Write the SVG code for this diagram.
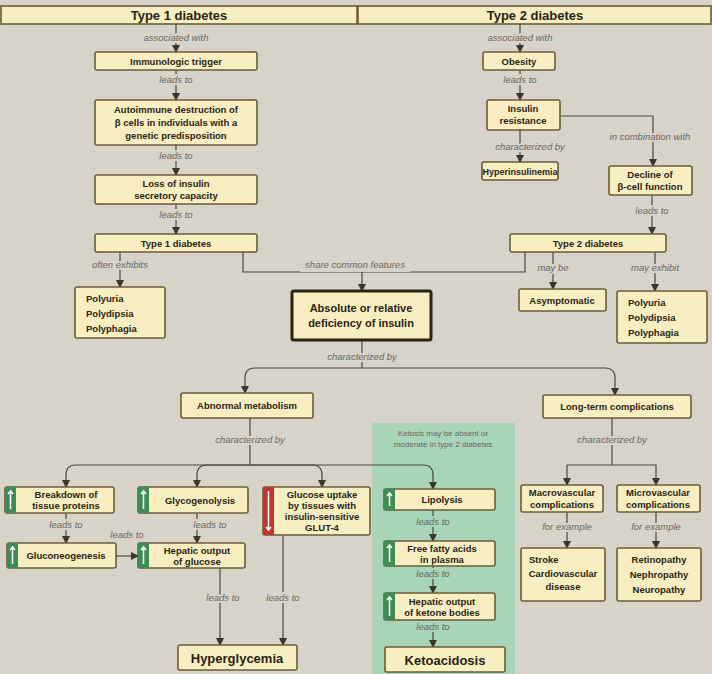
<svg xmlns="http://www.w3.org/2000/svg" width="712" height="674" viewBox="0 0 712 674">
<style>
.b{fill:#f8eec2;stroke:#6a5c38;stroke-width:1.6}
.t{font-family:"Liberation Sans",Arial,sans-serif;font-weight:bold;font-size:9.5px;fill:#2a2414;text-anchor:middle}
.s{text-anchor:start}
.l{font-family:"Liberation Sans",Arial,sans-serif;font-style:italic;font-size:9.5px;fill:#6a665c;text-anchor:middle}
.c{fill:none;stroke:#4a463c;stroke-width:1.2}
.m{marker-end:url(#a)}
.g{fill:#3e8c55}.r{fill:#c43530}
.ar{stroke:#fff;stroke-width:1.5;fill:none}
</style>
<defs><marker id="a" markerWidth="8" markerHeight="8" refX="7" refY="4" orient="auto" markerUnits="userSpaceOnUse"><path d="M0,0L8,4L0,8z" fill="#3a362c"/></marker></defs>
<rect width="712" height="674" fill="#d8d3c8"/>
<rect x="372" y="423" width="143" height="251" fill="#a8d4b8"/>
<g id="headers">
<rect x="1" y="6" width="356" height="18" class="b"/><text x="179" y="20" class="t" font-size="13" style="font-size:13px">Type 1 diabetes</text>
<rect x="358" y="6" width="353" height="18" class="b"/><text x="535" y="20" class="t" style="font-size:13px">Type 2 diabetes</text>
</g>
<g id="connectors">
<path class="c m" d="M176 24V52"/><path class="c m" d="M176 70V100"/><path class="c m" d="M176 145V175"/><path class="c m" d="M176 204V234"/><path class="c m" d="M120 252V287"/>
<path class="c m" d="M520 24V52"/><path class="c m" d="M520 70V100"/><path class="c m" d="M520 130V162"/><path class="c m" d="M560 116H653V166"/><path class="c m" d="M652 195V234"/><path class="c m" d="M553 252V289"/><path class="c m" d="M655 252V291"/>
<path class="c" d="M243 252V272H525V252"/><path class="c m" d="M362 272V291"/><path class="c" d="M362 340V368"/>
<path class="c m" d="M362 368H255Q245 368 245 378V393"/>
<path class="c m" d="M362 368H605Q615 368 615 378V395"/>
<path class="c" d="M250 418V465"/>
<path class="c m" d="M250 465H76Q66 465 66 475V487"/>
<path class="c m" d="M250 465H207Q197 465 197 475V487"/>
<path class="c m" d="M250 465H312Q322 465 322 475V487"/>
<path class="c m" d="M250 465H423Q433 465 433 475V489"/>
<path class="c" d="M612 418V465H567"/><path class="c m" d="M567 465V485"/><path class="c m" d="M612 465H656V485"/>
<path class="c m" d="M567 512V548"/><path class="c m" d="M656 512V548"/><path class="c m" d="M66 513V543"/><path class="c m" d="M197 513V543"/><path class="c m" d="M116 556H138"/><path class="c m" d="M220 568V645"/><path class="c m" d="M283 535V645"/><path class="c m" d="M433 510V541"/><path class="c m" d="M433 566V593"/><path class="c m" d="M433 620V647"/>
</g>
<g id="labels">
<text x="176" y="41" class="l" stroke="#d8d3c8" stroke-width="4">associated with</text><text x="176" y="41" class="l">associated with</text>
<text x="176" y="83" class="l" stroke="#d8d3c8" stroke-width="4">leads to</text><text x="176" y="83" class="l">leads to</text>
<text x="176" y="159" class="l" stroke="#d8d3c8" stroke-width="4">leads to</text><text x="176" y="159" class="l">leads to</text>
<text x="176" y="218" class="l" stroke="#d8d3c8" stroke-width="4">leads to</text><text x="176" y="218" class="l">leads to</text>
<text x="120" y="268" class="l" stroke="#d8d3c8" stroke-width="4">often exhibits</text><text x="120" y="268" class="l">often exhibits</text>
<rect x="300" y="260" width="110" height="12" fill="#d8d3c8"/>
<text x="355" y="268" class="l">share common features</text>
<text x="520" y="41" class="l" stroke="#d8d3c8" stroke-width="4">associated with</text><text x="520" y="41" class="l">associated with</text>
<text x="520" y="83" class="l" stroke="#d8d3c8" stroke-width="4">leads to</text><text x="520" y="83" class="l">leads to</text>
<text x="530" y="150" class="l" stroke="#d8d3c8" stroke-width="4">characterized by</text><text x="530" y="150" class="l">characterized by</text>
<text x="650" y="140" class="l" stroke="#d8d3c8" stroke-width="4">in combination with</text><text x="650" y="140" class="l">in combination with</text>
<text x="652" y="214" class="l" stroke="#d8d3c8" stroke-width="4">leads to</text><text x="652" y="214" class="l">leads to</text>
<text x="553" y="271" class="l" stroke="#d8d3c8" stroke-width="4">may be</text><text x="553" y="271" class="l">may be</text>
<text x="655" y="271" class="l" stroke="#d8d3c8" stroke-width="4">may exhibit</text><text x="655" y="271" class="l">may exhibit</text>
<text x="362" y="360" class="l" stroke="#d8d3c8" stroke-width="4">characterized by</text><text x="362" y="360" class="l">characterized by</text>
<text x="250" y="443" class="l" stroke="#d8d3c8" stroke-width="4">characterized by</text><text x="250" y="443" class="l">characterized by</text>
<text x="612" y="443" class="l" stroke="#d8d3c8" stroke-width="4">characterized by</text><text x="612" y="443" class="l">characterized by</text>
<text x="443" y="436" class="l" style="font-size:8px;font-style:normal">Ketosis may be absent or</text>
<text x="443" y="447" class="l" style="font-size:8px;font-style:normal">moderate in type 2 diabetes</text>
<text x="66" y="528" class="l" stroke="#d8d3c8" stroke-width="4">leads to</text><text x="66" y="528" class="l">leads to</text>
<text x="127" y="538" class="l">leads to</text>
<text x="210" y="528" class="l" stroke="#d8d3c8" stroke-width="4">leads to</text><text x="210" y="528" class="l">leads to</text>
<text x="223" y="601" class="l" stroke="#d8d3c8" stroke-width="4">leads to</text><text x="223" y="601" class="l">leads to</text>
<text x="283" y="601" class="l" stroke="#d8d3c8" stroke-width="4">leads to</text><text x="283" y="601" class="l">leads to</text>
<text x="433" y="525" class="l" stroke="#a8d4b8" stroke-width="4">leads to</text><text x="433" y="525" class="l">leads to</text>
<text x="433" y="577" class="l" stroke="#a8d4b8" stroke-width="4">leads to</text><text x="433" y="577" class="l">leads to</text>
<text x="433" y="630" class="l" stroke="#a8d4b8" stroke-width="4">leads to</text><text x="433" y="630" class="l">leads to</text>
<text x="567" y="530" class="l" stroke="#d8d3c8" stroke-width="4">for example</text><text x="567" y="530" class="l">for example</text>
<text x="656" y="530" class="l" stroke="#d8d3c8" stroke-width="4">for example</text><text x="656" y="530" class="l">for example</text>
</g>
<g id="immunologic"><rect x="95" y="52" width="162" height="18" rx="2" class="b"/><text x="176" y="65" class="t">Immunologic trigger</text></g>
<g id="autoimmune"><rect x="95" y="100" width="162" height="45" rx="2" class="b"/><text x="176" y="113" class="t">Autoimmune destruction of</text><text x="176" y="126" class="t">β cells in individuals with a</text><text x="176" y="139" class="t">genetic predisposition</text></g>
<g id="loss"><rect x="95" y="175" width="162" height="29" rx="2" class="b"/><text x="176" y="187" class="t">Loss of insulin</text><text x="176" y="199" class="t">secretory capacity</text></g>
<g id="type1"><rect x="95" y="234" width="162" height="18" rx="2" class="b"/><text x="176" y="247" class="t">Type 1 diabetes</text></g>
<g id="poly1"><rect x="75" y="287" width="90" height="51" rx="2" class="b"/><text x="86" y="302" class="t s">Polyuria</text><text x="86" y="317" class="t s">Polydipsia</text><text x="86" y="332" class="t s">Polyphagia</text></g>
<g id="absolute"><rect x="292" y="291" width="139" height="49" rx="2" class="b" style="stroke:#2a2414;stroke-width:3"/><text x="361" y="312" class="t" style="font-size:11px">Absolute or relative</text><text x="361" y="327" class="t" style="font-size:11px">deficiency of insulin</text></g>
<g id="obesity"><rect x="483" y="52" width="72" height="18" rx="2" class="b"/><text x="519" y="65" class="t">Obesity</text></g>
<g id="resistance"><rect x="487" y="100" width="73" height="30" rx="2" class="b"/><text x="523" y="112" class="t">Insulin</text><text x="523" y="124" class="t">resistance</text></g>
<g id="hyperinsulinemia"><rect x="482" y="162" width="76" height="18" rx="2" class="b"/><text x="520" y="175" class="t" style="font-size:9px">Hyperinsulinemia</text></g>
<g id="decline"><rect x="609" y="166" width="83" height="29" rx="2" class="b"/><text x="650" y="178" class="t">Decline of</text><text x="650" y="190" class="t">β-cell function</text></g>
<g id="type2"><rect x="510" y="234" width="156" height="18" rx="2" class="b"/><text x="588" y="247" class="t">Type 2 diabetes</text></g>
<g id="asymptomatic"><rect x="519" y="289" width="87" height="22" rx="2" class="b"/><text x="562" y="304" class="t">Asymptomatic</text></g>
<g id="poly2"><rect x="617" y="291" width="90" height="52" rx="2" class="b"/><text x="628" y="306" class="t s">Polyuria</text><text x="628" y="321" class="t s">Polydipsia</text><text x="628" y="336" class="t s">Polyphagia</text></g>
<g id="abnormal"><rect x="181" y="393" width="132" height="25" rx="2" class="b"/><text x="247" y="409" class="t">Abnormal metabolism</text></g>
<g id="longterm"><rect x="543" y="395" width="148" height="23" rx="2" class="b"/><text x="617" y="410" class="t">Long-term complications</text></g>
<g id="breakdown"><rect x="5" y="487" width="109" height="26" rx="2" class="b"/><rect x="5" y="487" width="11" height="26" class="g"/><path class="ar" d="M10.5 509V491M8 494L10.5 491L13 494"/><text x="66" y="498" class="t">Breakdown of</text><text x="66" y="509" class="t">tissue proteins</text></g>
<g id="glycogenolysis"><rect x="138" y="487" width="110" height="26" rx="2" class="b"/><rect x="138" y="487" width="11" height="26" class="g"/><path class="ar" d="M143.5 509V491M141 494L143.5 491L146 494"/><text x="200" y="504" class="t">Glycogenolysis</text></g>
<g id="uptake"><rect x="263" y="487" width="107" height="48" rx="2" class="b"/><rect x="263" y="487" width="11" height="48" class="r"/><path class="ar" d="M268.5 491V530M266 527L268.5 530L271 527"/><text x="322" y="498" class="t">Glucose uptake</text><text x="322" y="509" class="t">by tissues with</text><text x="322" y="520" class="t">insulin-sensitive</text><text x="322" y="531" class="t">GLUT-4</text></g>
<g id="gluconeogenesis"><rect x="7" y="543" width="109" height="25" rx="2" class="b"/><rect x="7" y="543" width="11" height="25" class="g"/><path class="ar" d="M12.5 564V547M10 550L12.5 547L15 550"/><text x="66" y="559" class="t">Gluconeogenesis</text></g>
<g id="hepaticglucose"><rect x="138" y="543" width="107" height="25" rx="2" class="b"/><rect x="138" y="543" width="11" height="25" class="g"/><path class="ar" d="M143.5 564V547M141 550L143.5 547L146 550"/><text x="197" y="554" class="t">Hepatic output</text><text x="197" y="565" class="t">of glucose</text></g>
<g id="hyperglycemia"><rect x="178" y="645" width="119" height="25" rx="2" class="b"/><text x="237" y="663" class="t" style="font-size:13px">Hyperglycemia</text></g>
<g id="lipolysis"><rect x="384" y="489" width="111" height="21" rx="2" class="b"/><rect x="384" y="489" width="11" height="21" class="g"/><path class="ar" d="M389.5 506V493M387 496L389.5 493L392 496"/><text x="442" y="503" class="t">Lipolysis</text></g>
<g id="ffa"><rect x="384" y="541" width="111" height="25" rx="2" class="b"/><rect x="384" y="541" width="11" height="25" class="g"/><path class="ar" d="M389.5 562V545M387 548L389.5 545L392 548"/><text x="442" y="552" class="t">Free fatty acids</text><text x="442" y="563" class="t">in plasma</text></g>
<g id="ketone"><rect x="384" y="593" width="111" height="27" rx="2" class="b"/><rect x="384" y="593" width="11" height="27" class="g"/><path class="ar" d="M389.5 616V597M387 600L389.5 597L392 600"/><text x="442" y="605" class="t">Hepatic output</text><text x="442" y="616" class="t">of ketone bodies</text></g>
<g id="ketoacidosis"><rect x="385" y="647" width="120" height="25" rx="2" class="b"/><text x="445" y="665" class="t" style="font-size:13px">Ketoacidosis</text></g>
<g id="macro"><rect x="521" y="485" width="82" height="27" rx="2" class="b"/><text x="562" y="496" class="t">Macrovascular</text><text x="562" y="508" class="t">complications</text></g>
<g id="micro"><rect x="617" y="485" width="83" height="27" rx="2" class="b"/><text x="658" y="496" class="t">Microvascular</text><text x="658" y="508" class="t">complications</text></g>
<g id="stroke"><rect x="521" y="548" width="84" height="53" rx="2" class="b"/><text x="529" y="563" class="t s">Stroke</text><text x="563" y="577" class="t">Cardiovascular</text><text x="563" y="590" class="t">disease</text></g>
<g id="retino"><rect x="617" y="548" width="84" height="53" rx="2" class="b"/><text x="659" y="563" class="t">Retinopathy</text><text x="659" y="578" class="t">Nephropathy</text><text x="659" y="593" class="t">Neuropathy</text></g>
</svg>
